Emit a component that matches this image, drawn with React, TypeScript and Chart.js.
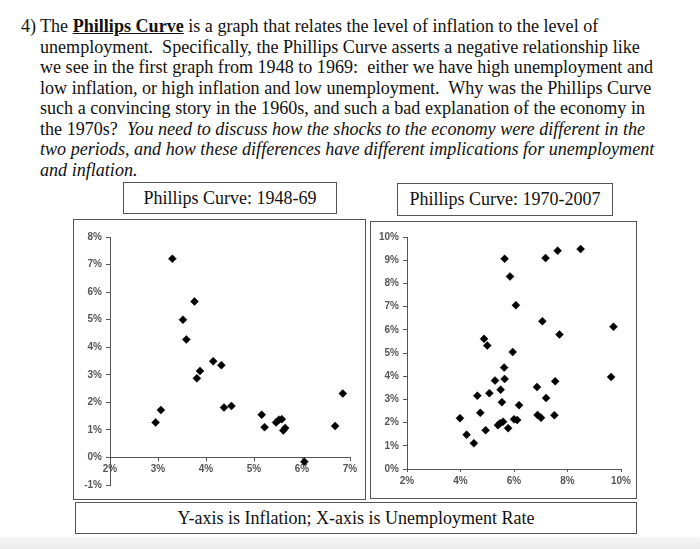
import React, { useEffect, useRef } from "react";
import { Chart, registerables } from "chart.js";

Chart.register(...registerables);

// 1948-69: unemployment rate (%) and inflation (%)
const unemp1948 = [3.30, 3.76, 3.52, 3.59, 4.15, 4.32, 3.875, 3.81, 2.95, 3.06, 4.375, 4.53, 5.16, 5.22, 5.46, 5.52, 5.58, 5.61, 5.65, 6.05, 6.69, 6.85];
const infl1948 = [7.21, 5.66, 5.0, 4.28, 3.49, 3.35, 3.14, 2.87, 1.27, 1.72, 1.81, 1.87, 1.55, 1.10, 1.27, 1.37, 1.39, 0.98, 1.07, -0.16, 1.14, 2.32];

// 1970-2007: unemployment rate (%) and inflation (%)
const unemp1970 = [5.65, 7.18, 7.63, 8.49, 5.85, 6.07, 7.06, 9.72, 7.70, 4.88, 5.00, 5.95, 5.63, 9.63, 5.29, 5.65, 7.54, 6.86, 4.63, 5.08, 5.50, 7.20, 5.55, 6.19, 4.74, 3.98, 6.88, 7.01, 7.51, 6.00, 6.12, 5.59, 5.48, 5.40, 5.78, 4.94, 4.23, 4.50];
const infl1970 = [9.06, 9.09, 9.41, 9.48, 8.30, 7.06, 6.37, 6.13, 5.80, 5.61, 5.32, 5.04, 4.37, 3.97, 3.81, 3.88, 3.78, 3.53, 3.16, 3.27, 3.42, 3.06, 2.88, 2.75, 2.42, 2.19, 2.33, 2.21, 2.32, 2.14, 2.11, 2.04, 1.97, 1.89, 1.76, 1.67, 1.48, 1.11];

const leftTitle = "Phillips Curve: 1948-69";
const rightTitle = "Phillips Curve: 1970-2007";
const caption = "Y-axis is Inflation; X-axis is Unemployment Rate";

const tickFont = { family: "'Liberation Sans', Arial, sans-serif", size: 10, weight: "bold" as const };
const tickColor = "#555";
const axisColor = "#555";

function pct(v: number | string) {
  return `${v}%`;
}

function makeConfig(xs: number[], ys: number[], opt: any): any {
  const data = xs.map((x, i) => ({ x, y: ys[i] }));
  return {
    type: "scatter",
    data: {
      datasets: [
        {
          data,
          pointStyle: "rectRot",
          pointRadius: 4,
          pointBackgroundColor: "#000",
          pointBorderColor: "#000",
          pointBorderWidth: 0.5,
        },
      ],
    },
    options: {
      animation: false,
      responsive: false,
      maintainAspectRatio: false,
      events: [],
      layout: { padding: opt.padding },
      plugins: { legend: { display: false }, title: { display: false }, tooltip: { enabled: false } },
      scales: {
        x: {
          type: "linear",
          min: opt.xMin,
          max: opt.xMax,
          position: opt.xPosition,
          afterFit: opt.xHeight ? (s: any) => { s.height = opt.xHeight; } : undefined,
          ticks: { stepSize: opt.xStep, callback: pct, font: tickFont, color: tickColor, padding: 3, maxRotation: 0, autoSkip: false },
          grid: { drawOnChartArea: false, drawTicks: true, tickLength: 3, color: axisColor },
          border: { display: true, color: axisColor, width: 1 },
        },
        y: {
          type: "linear",
          min: opt.yMin,
          max: opt.yMax,
          position: "left",
          afterFit: (s: any) => { s.width = opt.yWidth; },
          ticks: { stepSize: 1, callback: pct, font: tickFont, color: tickColor, padding: 4, autoSkip: false },
          grid: { drawOnChartArea: false, drawTicks: true, tickLength: 4, color: axisColor },
          border: { display: true, color: axisColor, width: 1 },
        },
      },
    },
  };
}

function ScatterBox(props: { left: number; top: number; width: number; height: number; config: any }) {
  const ref = useRef<HTMLCanvasElement | null>(null);
  useEffect(() => {
    if (!ref.current) return;
    const chart = new Chart(ref.current, props.config);
    return () => chart.destroy();
  }, []);
  return (
    <>
      <div
        style={{
          position: "absolute",
          left: props.left,
          top: props.top,
          width: props.width,
          height: props.height,
          border: "1.5px solid #555",
          boxSizing: "border-box",
        }}
      />
      <canvas
        ref={ref}
        width={props.width}
        height={props.height}
        style={{ position: "absolute", left: props.left, top: props.top, width: props.width, height: props.height }}
      />
    </>
  );
}

const serif = "'Liberation Serif', 'Times New Roman', serif";

function Box(props: { left: number; top: number; width: number; height: number; text: string }) {
  return (
    <div
      style={{
        position: "absolute",
        left: props.left,
        top: props.top,
        width: props.width,
        height: props.height,
        border: "1.5px solid #555",
        boxSizing: "border-box",
        display: "flex",
        alignItems: "center",
        justifyContent: "center",
        fontFamily: serif,
        fontSize: 18,
        color: "#111",
        whiteSpace: "nowrap",
      }}
    >
      {props.text}
    </div>
  );
}

export default function App() {
  const leftCfg = makeConfig(unemp1948, infl1948, {
    xMin: 2, xMax: 7, xStep: 1, yMin: -1, yMax: 8,
    xPosition: { y: 0 }, yWidth: 37,
    padding: { left: 0, right: 16, top: 18, bottom: 15 },
  });
  const rightCfg = makeConfig(unemp1970, infl1970, {
    xMin: 2, xMax: 10, xStep: 2, yMin: 0, yMax: 10,
    xPosition: "bottom", yWidth: 37, xHeight: 30,
    padding: { left: 0, right: 16, top: 16, bottom: 0 },
  });

  const lineStyle: React.CSSProperties = { whiteSpace: "pre", height: 20.5 };
  const textStyle: React.CSSProperties = {
    position: "absolute",
    top: 16,
    fontFamily: serif,
    fontSize: 18.1,
    lineHeight: "20.5px",
    color: "#111",
  };

  return (
    <div style={{ position: "absolute", left: 0, top: 0, width: 700, height: 549, background: "#fff", overflow: "hidden" }}>
      <div style={{ ...textStyle, left: 21 }}>4)</div>
      <div style={{ ...textStyle, left: 40 }}>
        <div style={lineStyle}>
          The <b><u>Phillips Curve</u></b> is a graph that relates the level of inflation to the level of
        </div>
        <div style={lineStyle}>unemployment.  Specifically, the Phillips Curve asserts a negative relationship like</div>
        <div style={lineStyle}>we see in the first graph from 1948 to 1969:  either we have high unemployment and</div>
        <div style={lineStyle}>low inflation, or high inflation and low unemployment.  Why was the Phillips Curve</div>
        <div style={lineStyle}>such a convincing story in the 1960s, and such a bad explanation of the economy in</div>
        <div style={lineStyle}>
          the 1970s?  <i>You need to discuss how the shocks to the economy were different in the</i>
        </div>
        <div style={lineStyle}>
          <i>two periods, and how these differences have different implications for unemployment</i>
        </div>
        <div style={lineStyle}>
          <i>and inflation.</i>
        </div>
      </div>

      <Box left={123} top={182} width={214} height={32} text={leftTitle} />
      <Box left={397} top={183} width={216} height={33} text={rightTitle} />

      <ScatterBox left={73} top={219} width={293} height={281} config={leftCfg} />
      <ScatterBox left={370} top={221} width={267} height={278} config={rightCfg} />

      <Box left={75} top={502} width={562} height={32} text={caption} />

      <div
        style={{
          position: "absolute",
          left: 0,
          top: 537,
          width: 700,
          height: 12,
          background: "linear-gradient(#f7f7f7, #ececec)",
        }}
      />
    </div>
  );
}
